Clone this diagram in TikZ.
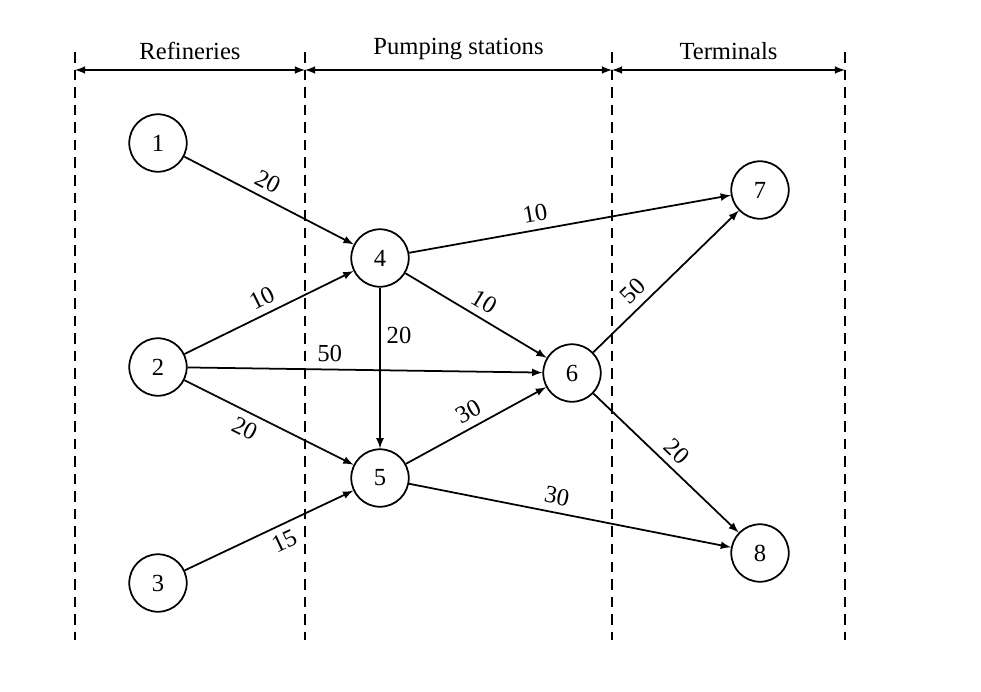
\documentclass[tikz,border=0pt]{standalone}
\usepackage{fontspec}
\setmainfont{Liberation Serif}
\begin{document}
\begin{tikzpicture}[x=0.02cm,y=-0.02cm,
  vertex/.style={draw,circle,semithick,line width=1pt,minimum size=1.15cm,inner sep=0pt,font=\fontsize{14}{16}\selectfont},
  flow/.style={line width=1pt,-latex},
  lab/.style={font=\fontsize{14}{16}\selectfont,sloped,above,inner sep=4pt},
  sep/.style={line width=1pt,dashed,dash pattern=on 6pt off 4pt},
  span/.style={line width=1pt,latex-latex},
  head/.style={font=\fontsize{14}{16}\selectfont}]
\useasboundingbox (0,0) rectangle (981,691);
\foreach \x/\n in {75/a,305/b,612/c,845/d}{
  \coordinate (t\n) at (\x,52); \coordinate (b\n) at (\x,640);
  \draw[sep] (t\n) -- (b\n);
  \coordinate (m\n) at (\x,70);}
\draw[span] (ma) -- node[head,above=2pt]{Refineries} (mb);
\draw[span] (mb) -- node[head,above=2pt]{Pumping stations} (mc);
\draw[span] (mc) -- node[head,above=2pt]{Terminals} (md);
\node[vertex] (1) at (158,143) {1};
\node[vertex] (2) at (158,367) {2};
\node[vertex] (3) at (158,583) {3};
\node[vertex] (4) at (380,258) {4};
\node[vertex] (5) at (380,478) {5};
\node[vertex] (6) at (572,373) {6};
\node[vertex] (7) at (760,190) {7};
\node[vertex] (8) at (760,553) {8};
\draw[flow] (1) -- node[lab,pos=0.45]{20} (4);
\draw[flow] (2) -- node[lab,pos=0.5]{10} (4);
\draw[flow] (2) -- node[lab,pos=0.4]{50} (6);
\draw[flow] (2) -- node[lab,below,pos=0.4]{20} (5);
\draw[flow] (3) -- node[lab,below,pos=0.55]{15} (5);
\draw[flow] (4) -- node[lab,pos=0.4]{10} (7);
\draw[flow] (4) -- node[lab,pos=0.5]{10} (6);
\draw[flow] (4) -- node[font=\fontsize{14}{16}\selectfont,right,pos=0.3]{20} (5);
\draw[flow] (5) -- node[lab,pos=0.5]{30} (6);
\draw[flow] (5) -- node[lab,pos=0.45]{30} (8);
\draw[flow] (6) -- node[lab,pos=0.35]{50} (7);
\draw[flow] (6) -- node[lab,pos=0.5]{20} (8);
\end{tikzpicture}
\end{document}
